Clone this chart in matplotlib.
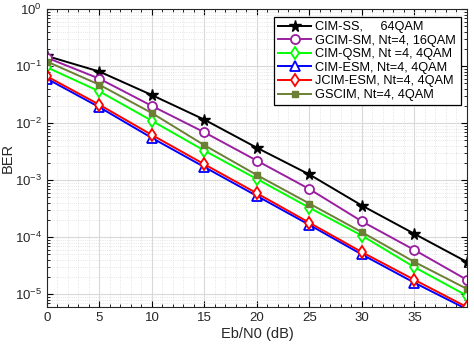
import matplotlib.pyplot as plt
from matplotlib.ticker import LogLocator, MultipleLocator, NullFormatter

plt.rcParams['font.family'] = ['Liberation Sans', 'DejaVu Sans']
plt.rcParams['mathtext.fontset'] = 'custom'
plt.rcParams['mathtext.rm'] = 'Liberation Sans'

snr_db = [0, 5, 10, 15, 20, 25, 30, 35, 40]

ber_cim_ss = [0.15, 0.08, 0.031, 0.0115, 0.0037, 0.00126, 3.6e-4, 1.15e-4, 3.7e-5]
ber_gcim_sm = [0.14, 0.06, 0.02, 0.0069, 0.0022, 7.0e-4, 1.9e-4, 6.0e-5, 1.8e-5]
ber_cim_qsm = [0.095, 0.036, 0.011, 0.0033, 1.05e-3, 3.3e-4, 1.07e-4, 3.0e-5, 9.5e-6]
ber_cim_esm = [0.06, 0.019, 0.0055, 0.0017, 5.3e-4, 1.65e-4, 5.0e-5, 1.6e-5, 5.5e-6]
ber_jcim_esm = [0.066, 0.021, 0.0062, 0.0019, 5.9e-4, 1.8e-4, 5.5e-5, 1.8e-5, 6.0e-6]
ber_gscim = [0.12, 0.047, 0.015, 0.0041, 1.23e-3, 3.9e-4, 1.23e-4, 3.7e-5, 1.25e-5]

labels = [
    'CIM-SS,     64QAM',
    'GCIM-SM, Nt=4, 16QAM',
    'CIM-QSM, Nt =4, 4QAM',
    'CIM-ESM, Nt=4, 4QAM',
    'JCIM-ESM, Nt=4, 4QAM',
    'GSCIM, Nt=4, 4QAM',
]

fig = plt.figure(figsize=(4.74, 3.45), dpi=100)
ax = fig.add_axes([0.099, 0.11, 0.886, 0.864])

lw = 1.4
ax.semilogy(snr_db, ber_cim_ss, color='black', marker='*', ms=8.5, lw=lw, label=labels[0])
ax.semilogy(snr_db, ber_gcim_sm, color='#9A1FA0', marker='o', ms=6.5, mfc='white', mew=1.3, lw=lw, label=labels[1])
ax.semilogy(snr_db, ber_cim_qsm, color='#00FF00', marker='d', ms=6.5, mfc='white', mew=1.3, lw=lw, label=labels[2])
ax.semilogy(snr_db, ber_cim_esm, color='#0000FF', marker='^', ms=6.5, mfc='white', mew=1.3, lw=lw, label=labels[3])
ax.semilogy(snr_db, ber_jcim_esm, color='#FF0000', marker='d', ms=6.5, mfc='white', mew=1.3, lw=lw, label=labels[4])
ax.semilogy(snr_db, ber_gscim, color='#6B7F35', marker='s', ms=4, lw=lw, label=labels[5])

ax.set_xlim(0, 40)
ax.set_ylim(6e-6, 1)
ax.set_xticks([0, 5, 10, 15, 20, 25, 30, 35])
ax.xaxis.set_minor_locator(MultipleLocator(1))
ax.yaxis.set_major_locator(LogLocator(base=10, numticks=10))
ax.yaxis.set_minor_locator(LogLocator(base=10, subs=range(2, 10), numticks=10))
ax.yaxis.set_minor_formatter(NullFormatter())

ax.grid(True, which='major', color='#D9D9D9', lw=0.8, ls='-')
ax.grid(True, which='minor', color='#DDDDDD', lw=0.6, ls=':')
ax.set_axisbelow(True)

ax.tick_params(which='both', direction='in', top=True, right=True, labelsize=9.5,
               labelcolor='#262626')
ax.tick_params(which='major', length=4)
ax.tick_params(which='minor', length=2)
for s in ax.spines.values():
    s.set_color('#262626')
    s.set_linewidth(0.8)

ax.set_xlabel('Eb/N0 (dB)', fontsize=10.5, labelpad=2, color='#262626')
ax.set_ylabel('BER', fontsize=10.5, labelpad=0, color='#262626')

leg = ax.legend(loc='upper right', bbox_to_anchor=(1.0, 0.995), fontsize=9.2,
                handlelength=2.6, handletextpad=0.3, labelspacing=0.12,
                borderpad=0.35, fancybox=False, framealpha=1, edgecolor='black')
leg.get_frame().set_linewidth(0.9)

fig.savefig('out.png', dpi=100)
